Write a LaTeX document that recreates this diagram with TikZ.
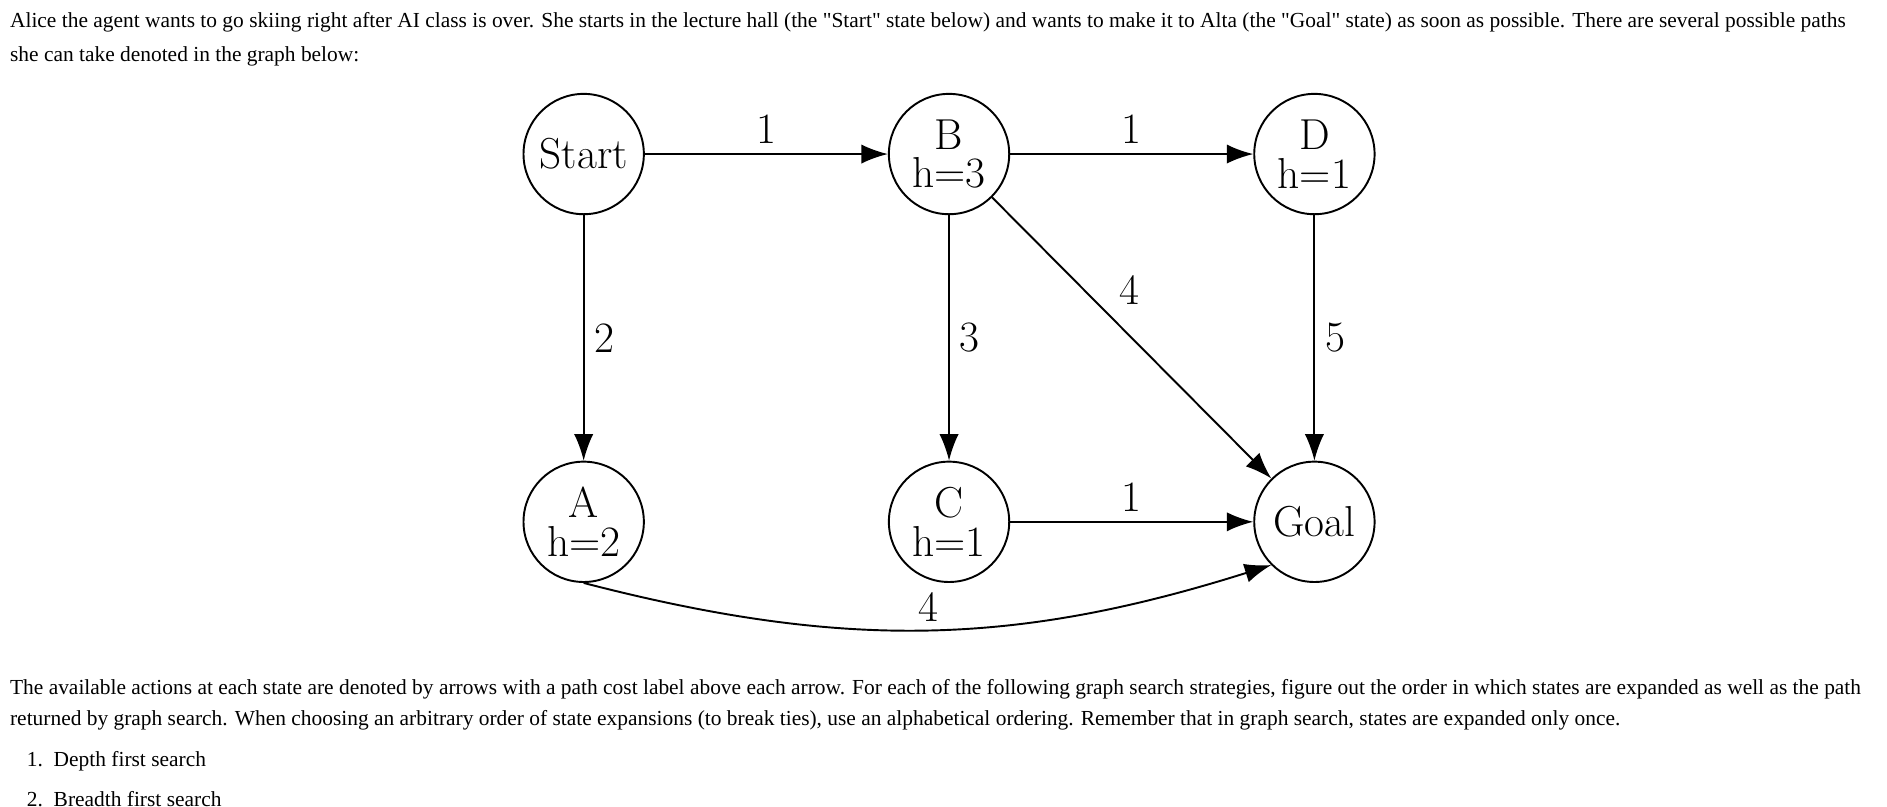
\documentclass[tikz,border=0pt]{standalone}
\usepackage{fontspec}
\newfontfamily\bodyfont{Liberation Serif}
\usetikzlibrary{positioning, arrows.meta}
\begin{document}
\begin{tikzpicture}[
    > = {Latex[length=11pt, width=8pt]}, align=center,
    state/.style = {
      circle, draw, thick, inner sep = 0pt, minimum size = 50pt,
      font = \fontsize{18}{16}\selectfont
    },
    path/.style = {
      arrows = ->, thick
    },
    cost/.style = {
      font = \fontsize{18}{18}\selectfont, inner sep = 4pt
    },
    body/.style = {
      anchor = base west, inner sep = 0pt, align = left,
      font = \bodyfont\fontsize{8.9}{10}\selectfont
    },
    ]
    \useasboundingbox (0,0) rectangle (784pt,-335pt);
    \clip (0,0) rectangle (784pt,-335pt);

    % text around the graph
    \node  [body]  (t1)  at (4pt,-11.5pt)  {Alice the agent wants to go skiing right after AI class is over. She starts in the lecture hall (the "Start" state below) and wants to make it to Alta (the "Goal" state) as soon as possible. There are several possible paths};
    \node  [body]  (t2)  at (4pt,-25.5pt)  {she can take denoted in the graph below:};
    \node  [body]  (t3)  at (4pt,-288.5pt)  {The available actions at each state are denoted by arrows with a path cost label above each arrow. For each of the following graph search strategies, figure out the order in which states are expanded as well as the path};
    \node  [body]  (t4)  at (4pt,-301.5pt)  {returned by graph search. When choosing an arbitrary order of state expansions (to break ties), use an alphabetical ordering. Remember that in graph search, states are expanded only once.};
    \node  [body]  (t5)  at (11pt,-318.5pt)  {1.\ \ Depth first search};
    \node  [body]  (t6)  at (11pt,-335pt)  {2.\ \ Breadth first search};

    % draw states
    \node  [state]  (start)  at (242.5pt,-64pt)  {Start};
    \node  [state]  (B)  [right = 101pt of start]  {B\\h=3};
    \node  [state]  (D)  [right = 101pt of B]  {D\\h=1};
    \node  [state]  (A)  [below = 102pt of start]  {A\\h=2};
    \node  [state]  (C)  [below = 102pt of B]  {C\\h=1};
    \node  [state]  (goal)  [below = 102pt of D]  {Goal};

    % draw paths
    \draw  [path]  (start)  to node  [cost, above]  {1}  (B);
    \draw  [path]  (B)  to node  [cost, above]  {1}  (D);
    \draw  [path]  (start)  to node  [cost, right]  {2}  (A);
    \draw  [path]  (B)  to node  [cost, right]  {3}  (C);
    \draw  [path]  (B)  to node  [cost, above right, pos = .42]  {4}  (goal);
    \draw  [path]  (D)  to node  [cost, right]  {5}  (goal);
    \draw  [path]  (C)  to node  [cost, above]  {1}  (goal);
    \draw  [path]  (A.south)  to [bend right = 16]  node  [cost, above, inner sep = 3pt, pos = .5]  {4}  (goal.south west);
\end{tikzpicture}
\end{document}
